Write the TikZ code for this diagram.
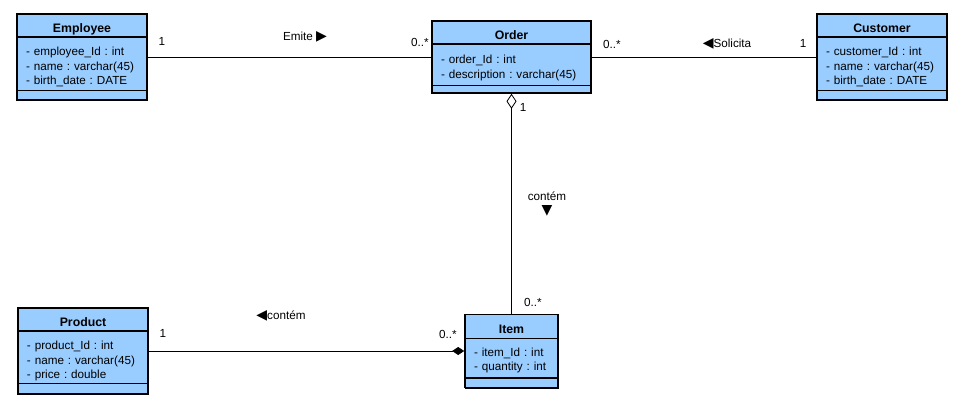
\documentclass[tikz,border=0pt]{standalone}
\usepackage{fontspec}
\setmainfont{Liberation Sans}
\newfontfamily\symfont{DejaVu Sans}
\newcommand\tri[1]{{\symfont\fontsize{14}{14}\selectfont #1}}
\usetikzlibrary{arrows.meta}
\definecolor{classblue}{RGB}{153,204,255}
\tikzset{
  classbox/.style={draw, fill=classblue, line width=1.6pt, inner sep=0pt},
  classname/.style={draw, anchor=north, inner sep=0pt, minimum height=23pt,
    text height=15pt, text depth=0pt,
    font=\fontsize{12.3}{14}\selectfont\bfseries},
  classattrs/.style={draw, anchor=north, align=left, inner xsep=9pt, inner ysep=0pt,
    text height=10pt, font=\fontsize{11.7}{14.5}\selectfont\frenchspacing},
  classops/.style={draw, anchor=north, inner sep=0pt},
  assoc/.style={line width=0.8pt},
  mult/.style={inner sep=1pt, font=\fontsize{11.7}{14}\selectfont},
}
\begin{document}
\begin{tikzpicture}[x=1pt, y=-1pt]
\useasboundingbox (0,0) rectangle (976,414);
% Employee
\node (employee) [classbox, minimum width=130pt, minimum height=86pt] at (82,57) {};
\node (employee name) [classname, minimum width=130pt] at (employee.north) {Employee};
\node (employee attrs) [classattrs, text width=112pt, minimum height=53pt, text depth=25pt]
  at (employee name.south) {- employee\_Id : int\\- name : varchar(45)\\- birth\_date : DATE};
\node (employee ops) [classops, minimum width=130pt, minimum height=10pt] at (employee attrs.south) {};
% Order
\node (order) [classbox, minimum width=159pt, minimum height=72pt] at (511.5,57) {};
\node (order name) [classname, minimum width=159pt] at (order.north) {Order};
\node (order attrs) [classattrs, text width=141pt, minimum height=41pt, text depth=11pt]
  at (order name.south) {- order\_Id : int\\- description : varchar(45)};
\node (order ops) [classops, minimum width=159pt, minimum height=8pt] at (order attrs.south) {};
% Customer
\node (customer) [classbox, minimum width=130pt, minimum height=86pt] at (882,57) {};
\node (customer name) [classname, minimum width=130pt] at (customer.north) {Customer};
\node (customer attrs) [classattrs, text width=112pt, minimum height=53pt, text depth=25pt]
  at (customer name.south) {- customer\_Id : int\\- name : varchar(45)\\- birth\_date : DATE};
\node (customer ops) [classops, minimum width=130pt, minimum height=10pt] at (customer attrs.south) {};
% Product
\node (product) [classbox, minimum width=130pt, minimum height=86pt] at (83,351) {};
\node (product name) [classname, minimum width=130pt] at (product.north) {Product};
\node (product attrs) [classattrs, text width=112pt, minimum height=52pt, text depth=24pt]
  at (product name.south) {- product\_Id : int\\- name : varchar(45)\\- price : double};
\node (product ops) [classops, minimum width=130pt, minimum height=11pt] at (product attrs.south) {};
% Item
\node (item) [classbox, minimum width=93pt, minimum height=73pt] at (511.5,351) {};
\node (item name) [classname, minimum width=93pt, minimum height=24pt] at (item.north) {Item};
\node (item attrs) [classattrs, text width=75pt, minimum height=39pt, text depth=13pt]
  at (item name.south) {- item\_Id : int\\- quantity : int};
\node (item ops) [classops, minimum width=93pt, minimum height=10pt] at (item attrs.south) {};

% associations
\draw[assoc] (employee) -- (order);
\draw[assoc] (customer) -- (order);
\draw[assoc, -{Diamond[open, length=15pt, width=10pt]}] (item) -- (order);
\draw[assoc, -{Diamond[length=12pt, width=8pt]}] (product) -- (item);

% labels
\node (emite) [mult] at (305,37) {Emite \tri{▶}};
\node (emp mult) [mult] at (162,41) {1};
\node (ord mult left) [mult] at (420,42) {0..*};
\node (ord mult right) [mult] at (612,44) {0..*};
\node (solicita) [mult] at (727,44) {\tri{◀}Solicita};
\node (cust mult) [mult] at (803,43) {1};
\node (ord mult bottom) [mult] at (523,107) {1};
\node (contem order) [mult, align=center] at (547,204) {contém\\\tri{▼}};
\node (item mult top) [mult] at (533,302) {0..*};
\node (contem item) [mult] at (281,316) {\tri{◀}contém};
\node (prod mult) [mult] at (163,333) {1};
\node (item mult left) [mult] at (448,334) {0..*};
\end{tikzpicture}
\end{document}
